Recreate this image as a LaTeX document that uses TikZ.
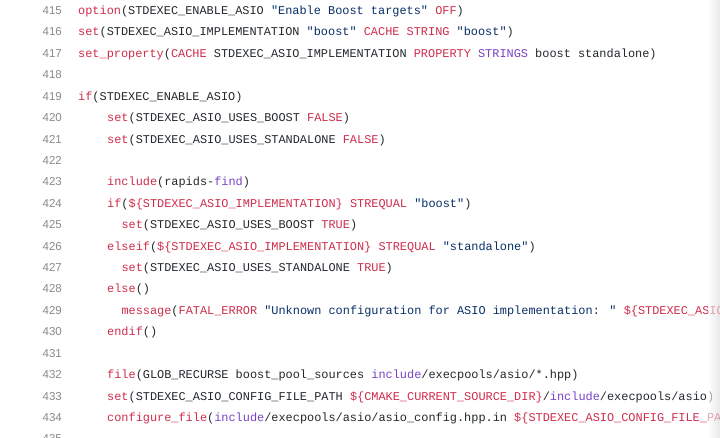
\documentclass[tikz,border=0pt]{standalone}
\usepackage{fontspec}
\newfontfamily\codef{Liberation Mono}
\newfontfamily\numf{Liberation Sans}
\definecolor{kw}{HTML}{CF2E4C}
\definecolor{st}{HTML}{0A3069}
\definecolor{pu}{HTML}{7A44C8}
\definecolor{tx}{HTML}{24292E}
\definecolor{ln}{HTML}{8A8A8A}
\newcommand{\K}[1]{\textcolor{kw}{#1}}
\newcommand{\Sg}[1]{\textcolor{st}{#1}}
\newcommand{\Pu}[1]{\textcolor{pu}{#1}}
\begin{document}
\begin{tikzpicture}[x=1pt,y=-1pt,
  codeline/.style={anchor=base west,inner sep=0pt,font=\codef\fontsize{11.9}{14}\selectfont,text=tx},
  lnum/.style={anchor=base east,inner sep=0pt,font=\numf\fontsize{11.5}{14}\selectfont,text=ln}]
\useasboundingbox (0,0) rectangle (720,438);
\fill[white] (0,0) rectangle (720,438);
\begin{scope}
\clip (0,0) rectangle (720,438);
\foreach \n [count=\i from 0] in {415,...,435}
  \node[lnum] (n\n) at (62,{14.5+21.42*\i}) {\n};
\def\ya#1{{14.5+21.42*#1}}
\node[codeline] (c415) at (78,\ya{0}) {\K{option}(STDEXEC\_ENABLE\_ASIO \Sg{"Enable Boost targets"} \K{OFF})};
\node[codeline] (c416) at (78,\ya{1}) {\K{set}(STDEXEC\_ASIO\_IMPLEMENTATION \Sg{"boost"} \K{CACHE} \K{STRING} \Sg{"boost"})};
\node[codeline] (c417) at (78,\ya{2}) {\K{set\_property}(\K{CACHE} STDEXEC\_ASIO\_IMPLEMENTATION \K{PROPERTY} \Pu{STRINGS} boost standalone)};
\node[codeline] (c419) at (78,\ya{4}) {\K{if}(STDEXEC\_ENABLE\_ASIO)};
\node[codeline] (c420) at (107,\ya{5}) {\K{set}(STDEXEC\_ASIO\_USES\_BOOST \K{FALSE})};
\node[codeline] (c421) at (107,\ya{6}) {\K{set}(STDEXEC\_ASIO\_USES\_STANDALONE \K{FALSE})};
\node[codeline] (c423) at (107,\ya{8}) {\K{include}(rapids-\Pu{find})};
\node[codeline] (c424) at (107,\ya{9}) {\K{if}(\K{\$\{STDEXEC\_ASIO\_IMPLEMENTATION\}} \K{STREQUAL} \Sg{"boost"})};
\node[codeline] (c425) at (121.3,\ya{10}) {\K{set}(STDEXEC\_ASIO\_USES\_BOOST \K{TRUE})};
\node[codeline] (c426) at (107,\ya{11}) {\K{elseif}(\K{\$\{STDEXEC\_ASIO\_IMPLEMENTATION\}} \K{STREQUAL} \Sg{"standalone"})};
\node[codeline] (c427) at (121.3,\ya{12}) {\K{set}(STDEXEC\_ASIO\_USES\_STANDALONE \K{TRUE})};
\node[codeline] (c428) at (107,\ya{13}) {\K{else}()};
\node[codeline] (c429) at (121.3,\ya{14}) {\K{message}(\K{FATAL\_ERROR} \Sg{"Unknown configuration for ASIO implementation: "} \K{\$\{STDEXEC\_ASIO\_IMPLEMENTATION\}})};
\node[codeline] (c430) at (107,\ya{15}) {\K{endif}()};
\node[codeline] (c432) at (107,\ya{17}) {\K{file}(GLOB\_RECURSE boost\_pool\_sources \Pu{include}/execpools/asio/*.hpp)};
\node[codeline] (c433) at (107,\ya{18}) {\K{set}(STDEXEC\_ASIO\_CONFIG\_FILE\_PATH \K{\$\{CMAKE\_CURRENT\_SOURCE\_DIR\}}/\Pu{include}/execpools/asio)};
\node[codeline] (c434) at (107,\ya{19}) {\K{configure\_file}(\Pu{include}/execpools/asio/asio\_config.hpp.in \K{\$\{STDEXEC\_ASIO\_CONFIG\_FILE\_PATH\}})};
\shade[left color=white, right color=black!15, opacity=0.6] (708,0) rectangle (720,438);
\end{scope}
\end{tikzpicture}
\end{document}
